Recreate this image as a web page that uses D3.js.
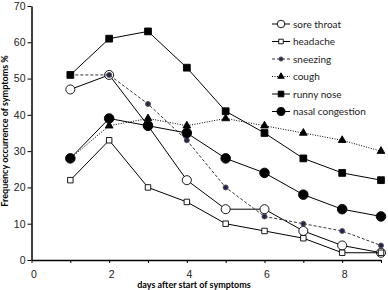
<!DOCTYPE html>
<html>
<head>
<meta charset="utf-8">
<script src="https://cdn.jsdelivr.net/npm/d3@7"></script>
<style>
  body { margin: 0; background: #fff; }
  svg { display: block; font-family: Lato, "Open Sans", sans-serif; }
</style>
</head>
<body>
<div id="chart"></div>
<script>
// data
const days = [1, 2, 3, 4, 5, 6, 7, 8, 9];
const soreThroat = [47, 51, 37, 22, 14, 14, 8, 4, 2];
const headache = [22, 33, 20, 16, 10, 8, 6, 2, 2];
const sneezing = [51, 51, 43, 33, 20, 12, 10, 8, 4];
const cough = [28, 37, 39, 37, 39, 37, 35, 33, 30];
const runnyNose = [51, 61, 63, 53, 41, 35, 28, 24, 22];
const nasalCongestion = [28, 39, 37, 35, 28, 24, 18, 14, 12];
const xTicks = [0, 1, 2, 3, 4, 5, 6, 7, 8, 9];
const yTicks = [0, 10, 20, 30, 40, 50, 60, 70];

const width = 388, height = 290;
const margin = { top: 6, right: 7, bottom: 30, left: 31.5 };

// one entry per series, in drawing order
const series = [
  { name: "sore throat", values: soreThroat, symbol: d3.symbolCircle, size: 64, fill: "#fff", stroke: "#000", dash: null, lineColor: "#000" },
  { name: "headache", values: headache, symbol: d3.symbolSquare, size: 30, fill: "#fff", stroke: "#000", dash: null, lineColor: "#000" },
  { name: "sneezing", values: sneezing, symbol: d3.symbolCircle, size: 20, fill: "#2a2150", stroke: "#555", dash: "3,2", lineColor: "#333" },
  { name: "cough", values: cough, symbol: d3.symbolTriangle, size: 26, fill: "#000", stroke: "#000", dash: "1,1.5", lineColor: "#000" },
  { name: "runny nose", values: runnyNose, symbol: d3.symbolSquare, size: 46, fill: "#000", stroke: "#000", dash: null, lineColor: "#000" },
  { name: "nasal congestion", values: nasalCongestion, symbol: d3.symbolCircle, size: 72, fill: "#000", stroke: "#000", dash: null, lineColor: "#000" },
];

const svg = d3.select("#chart")
  .append("svg")
  .attr("width", width)
  .attr("height", height);

const x = d3.scaleLinear()
  .domain([0, 9])
  .range([margin.left, width - margin.right]);

const y = d3.scaleLinear()
  .domain([0, 70])
  .range([height - margin.bottom, margin.top]);

// Axes
const yAxis = svg.append("g")
  .attr("transform", `translate(${margin.left},0)`)
  .call(d3.axisLeft(y).tickValues(yTicks).tickSize(4).tickSizeOuter(0).tickPadding(2));
yAxis.select(".domain").attr("stroke-width", 1.5);
yAxis.selectAll("text").attr("font-size", "10.5px").attr("fill", "#222");

const xAxis = svg.append("g")
  .attr("transform", `translate(0,${height - margin.bottom})`)
  .call(d3.axisBottom(x).tickValues(xTicks).tickSize(3).tickSizeOuter(0).tickPadding(8)
    .tickFormat((d) => (d % 2 === 0 ? d : "")));
xAxis.select(".domain").attr("stroke-width", 1.5);
xAxis.selectAll("text").attr("font-size", "10.5px").attr("fill", "#222").attr("dx", "2");

// Axis titles
svg.append("text")
  .attr("x", 194)
  .attr("y", 288)
  .attr("text-anchor", "middle")
  .attr("font-size", "9px")
  .attr("font-weight", "bold")
  .text("days after start of symptoms");

svg.append("text")
  .attr("transform", "translate(8,131) rotate(-90)")
  .attr("text-anchor", "middle")
  .attr("font-size", "9px")
  .attr("font-weight", "bold")
  .text("Frequency occurrence of symptoms %");

// Lines and markers
const line = d3.line()
  .x((d, i) => x(days[i]))
  .y((d) => y(d));

series.forEach((s) => {
  const g = svg.append("g");
  g.append("path")
    .attr("d", line(s.values))
    .attr("fill", "none")
    .attr("stroke", s.lineColor)
    .attr("stroke-width", 1)
    .attr("stroke-dasharray", s.dash);
  g.selectAll("path.marker")
    .data(s.values)
    .join("path")
    .attr("class", "marker")
    .attr("transform", (d, i) => `translate(${x(days[i])},${y(d)})`)
    .attr("d", d3.symbol(s.symbol, s.size))
    .attr("fill", s.fill)
    .attr("stroke", s.stroke)
    .attr("stroke-width", 0.9);
});

// Legend
const legend = svg.append("g").attr("transform", "translate(272,24)");
const row = legend.selectAll("g")
  .data(series)
  .join("g")
  .attr("transform", (d, i) => `translate(0,${i * 17.5})`);
row.append("line")
  .attr("x1", 0).attr("x2", 18)
  .attr("stroke", (d) => d.lineColor)
  .attr("stroke-dasharray", (d) => d.dash);
row.append("path")
  .attr("transform", "translate(9,0)")
  .attr("d", (d) => d3.symbol(d.symbol, d.size * 0.7)())
  .attr("fill", (d) => d.fill)
  .attr("stroke", (d) => d.stroke)
  .attr("stroke-width", 0.9);
row.append("text")
  .attr("x", 21)
  .attr("dy", "0.35em")
  .attr("font-size", "10px")
  .attr("fill", "#222")
  .text((d) => d.name);
</script>
</body>
</html>
